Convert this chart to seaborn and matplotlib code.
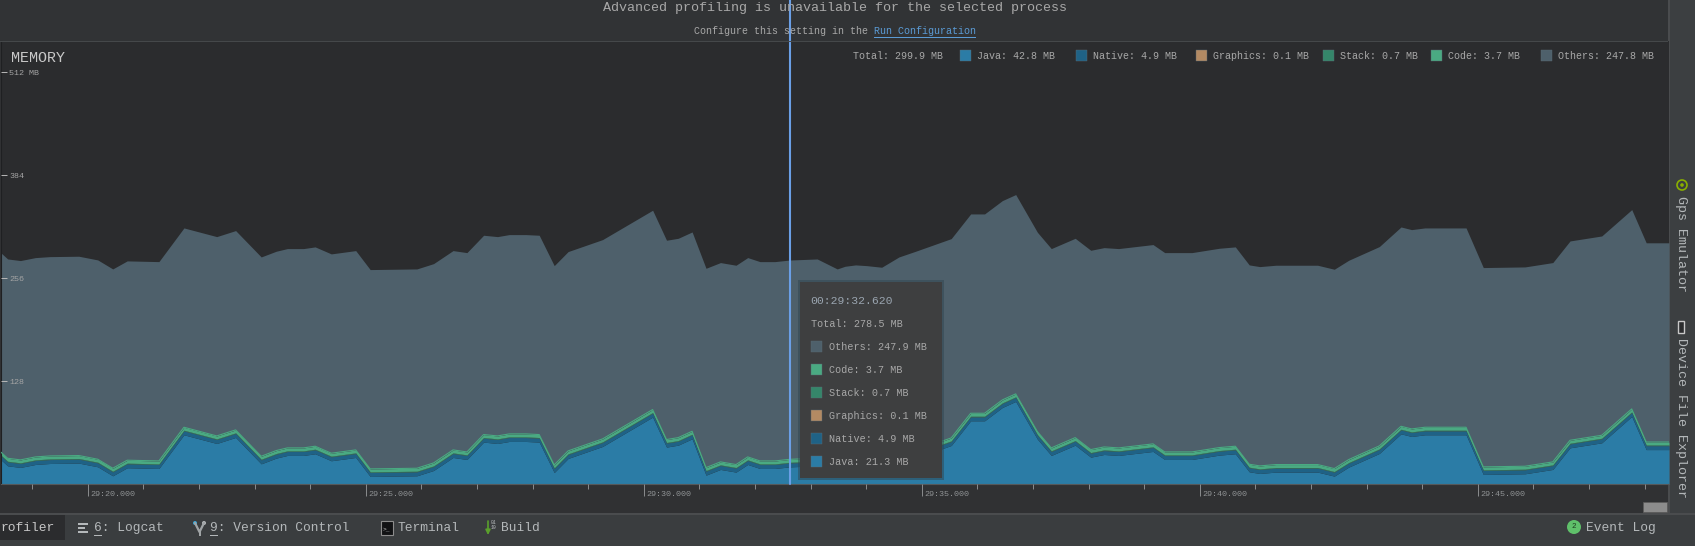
import numpy as np
import pandas as pd
import matplotlib
matplotlib.use("Agg")
import matplotlib.pyplot as plt
from matplotlib.patches import Rectangle, Circle
import seaborn as sns

# seconds after 00:29:00 and MB per layer
times = [18.44, 18.56, 18.79, 19.06, 19.32, 19.84, 20.18, 20.45, 20.71, 21.28,
         21.73, 22.32, 22.66, 23.12, 23.39, 23.59, 23.88, 24.09, 24.38, 24.82,
         25.08, 25.92, 26.22, 26.57, 26.82, 27.12, 27.37, 27.58, 27.88, 28.12,
         28.39, 28.64, 29.26, 30.16, 30.41, 30.62, 30.87, 31.12, 31.38, 31.66,
         31.87, 32.09, 32.36, 32.63, 33.12, 33.48, 33.62, 33.81, 34.01, 34.28,
         34.59, 34.89, 35.53, 35.88, 36.13, 36.45, 36.69, 37.08, 37.33, 37.76,
         38.04, 38.28, 38.54, 39.16, 39.37, 39.86, 40.35, 40.64, 40.89, 41.08,
         41.37, 42.12, 42.42, 42.68, 43.23, 43.62, 43.81, 44.05, 44.79, 45.10,
         45.85, 46.35, 46.66, 47.23, 47.77, 48.03, 48.44]
java = [30.1, 22.6, 20.6, 24.3, 25.5, 26.0, 21.4, 10.2, 20.2, 19.3,
        61.2, 50.4, 57.9, 25.1, 32.2, 35.5, 35.5, 37.6, 28.9, 33.0,
        9.4, 10.2, 16.8, 33.0, 30.5, 52.1, 50.4, 52.9, 52.9, 52.1,
        14.3, 31.8, 46.7, 83.2, 45.9, 48.3, 56.2, 11.0, 18.1, 14.8,
        24.3, 19.3, 19.3, 21.3, 22.6, 10.2, 13.5, 15.2, 14.3, 12.3,
        25.1, 32.2, 47.9, 78.6, 78.6, 95.2, 102.7, 55.8, 35.5, 48.3,
        33.4, 36.7, 35.5, 40.5, 30.5, 30.5, 35.9, 37.6, 15.2, 13.1,
        14.8, 14.8, 9.8, 21.0, 38.0, 62.4, 59.1, 61.2, 61.2, 11.9,
        12.7, 18.1, 45.0, 51.2, 84.0, 42.8, 42.8]
native = [4.9, 4.9, 4.9, 4.9, 4.9, 4.9, 4.9, 4.9, 4.9, 4.9,
          4.9, 4.9, 4.9, 4.9, 4.9, 4.9, 4.9, 4.9, 4.9, 4.9,
          4.9, 4.9, 4.9, 4.9, 4.9, 4.9, 4.9, 4.9, 4.9, 4.9,
          4.9, 4.9, 4.9, 4.9, 4.9, 4.9, 4.9, 4.9, 4.9, 4.9,
          4.9, 4.9, 4.9, 4.9, 4.9, 4.9, 4.9, 4.9, 4.9, 4.9,
          4.9, 4.9, 4.9, 4.9, 4.9, 4.9, 4.9, 4.9, 4.9, 4.9,
          4.9, 4.9, 4.9, 4.9, 4.9, 4.9, 4.9, 4.9, 4.9, 4.9,
          4.9, 4.9, 4.9, 4.9, 4.9, 4.9, 4.9, 4.9, 4.9, 4.9,
          4.9, 4.9, 4.9, 4.9, 4.9, 4.9, 4.9]
graphics = [0.1, 0.1, 0.1, 0.1, 0.1, 0.1, 0.1, 0.1, 0.1, 0.1,
            0.1, 0.1, 0.1, 0.1, 0.1, 0.1, 0.1, 0.1, 0.1, 0.1,
            0.1, 0.1, 0.1, 0.1, 0.1, 0.1, 0.1, 0.1, 0.1, 0.1,
            0.1, 0.1, 0.1, 0.1, 0.1, 0.1, 0.1, 0.1, 0.1, 0.1,
            0.1, 0.1, 0.1, 0.1, 0.1, 0.1, 0.1, 0.1, 0.1, 0.1,
            0.1, 0.1, 0.1, 0.1, 0.1, 0.1, 0.1, 0.1, 0.1, 0.1,
            0.1, 0.1, 0.1, 0.1, 0.1, 0.1, 0.1, 0.1, 0.1, 0.1,
            0.1, 0.1, 0.1, 0.1, 0.1, 0.1, 0.1, 0.1, 0.1, 0.1,
            0.1, 0.1, 0.1, 0.1, 0.1, 0.1, 0.1]
stack = [0.7, 0.7, 0.7, 0.7, 0.7, 0.7, 0.7, 0.7, 0.7, 0.7,
         0.7, 0.7, 0.7, 0.7, 0.7, 0.7, 0.7, 0.7, 0.7, 0.7,
         0.7, 0.7, 0.7, 0.7, 0.7, 0.7, 0.7, 0.7, 0.7, 0.7,
         0.7, 0.7, 0.7, 0.7, 0.7, 0.7, 0.7, 0.7, 0.7, 0.7,
         0.7, 0.7, 0.7, 0.7, 0.7, 0.7, 0.7, 0.7, 0.7, 0.7,
         0.7, 0.7, 0.7, 0.7, 0.7, 0.7, 0.7, 0.7, 0.7, 0.7,
         0.7, 0.7, 0.7, 0.7, 0.7, 0.7, 0.7, 0.7, 0.7, 0.7,
         0.7, 0.7, 0.7, 0.7, 0.7, 0.7, 0.7, 0.7, 0.7, 0.7,
         0.7, 0.7, 0.7, 0.7, 0.7, 0.7, 0.7]
code = [3.7, 3.7, 3.7, 3.7, 3.7, 3.7, 3.7, 3.7, 3.7, 3.7,
        3.7, 3.7, 3.7, 3.7, 3.7, 3.7, 3.7, 3.7, 3.7, 3.7,
        3.7, 3.7, 3.7, 3.7, 3.7, 3.7, 3.7, 3.7, 3.7, 3.7,
        3.7, 3.7, 3.7, 3.7, 3.7, 3.7, 3.7, 3.7, 3.7, 3.7,
        3.7, 3.7, 3.7, 3.7, 3.7, 3.7, 3.7, 3.7, 3.7, 3.7,
        3.7, 3.7, 3.7, 3.7, 3.7, 3.7, 3.7, 3.7, 3.7, 3.7,
        3.7, 3.7, 3.7, 3.7, 3.7, 3.7, 3.7, 3.7, 3.7, 3.7,
        3.7, 3.7, 3.7, 3.7, 3.7, 3.7, 3.7, 3.7, 3.7, 3.7,
        3.7, 3.7, 3.7, 3.7, 3.7, 3.7, 3.7]
others = [247.9, 247.9, 247.9, 247.9, 247.9, 247.9, 247.9, 247.9, 247.9, 247.9,
          247.9, 247.9, 247.9, 247.9, 247.9, 247.9, 247.9, 247.9, 247.9, 247.9,
          247.9, 247.9, 247.9, 247.9, 247.9, 247.9, 247.9, 247.9, 247.9, 247.9,
          247.9, 247.9, 247.9, 247.9, 247.9, 247.9, 247.9, 247.9, 247.9, 247.9,
          247.9, 247.9, 247.9, 247.9, 247.9, 247.9, 247.9, 247.9, 247.9, 247.9,
          247.9, 247.9, 247.9, 247.9, 247.9, 247.9, 247.9, 247.9, 247.9, 247.9,
          247.9, 247.9, 247.9, 247.9, 247.9, 247.9, 247.9, 247.9, 247.9, 247.9,
          247.9, 247.9, 247.9, 247.9, 247.9, 247.9, 247.9, 247.9, 247.9, 247.9,
          247.9, 247.9, 247.9, 247.9, 247.9, 247.8, 247.8]

layer_names = ["Java", "Native", "Graphics", "Stack", "Code", "Others"]
layer_colors = ["#2b7ca6", "#1f6286", "#b38a63", "#35866a", "#4aaa82", "#4e606b"]

y_ticks = [128, 256, 384, 512]
y_labels = ["128", "256", "384", "512 MB"]
major_seconds = [20, 25, 30, 35, 40, 45]
major_labels = ["29:20.000", "29:25.000", "29:30.000", "29:35.000", "29:40.000", "29:45.000"]
minor_seconds = [19, 21, 22, 23, 24, 26, 27, 28, 29, 31, 32, 33, 34, 36, 37, 38, 39,
                 41, 42, 43, 44, 46, 47, 48]
cursor_time = 32.63

legend_total = "Total: 299.9 MB"
legend_items = ["Java: 42.8 MB", "Native: 4.9 MB", "Graphics: 0.1 MB",
                "Stack: 0.7 MB", "Code: 3.7 MB", "Others: 247.8 MB"]
tooltip_time = "00:29:32.620"
tooltip_total = "Total: 278.5 MB"
tooltip_items = ["Others: 247.9 MB", "Code: 3.7 MB", "Stack: 0.7 MB",
                 "Graphics: 0.1 MB", "Native: 4.9 MB", "Java: 21.3 MB"]

W, H = 1695, 546
sns.set_style("dark", {"axes.facecolor": "#2b2c2e", "figure.facecolor": "#313335"})
plt.rcParams["font.family"] = ["Liberation Mono", "DejaVu Sans Mono"]

fig = plt.figure(figsize=(W / 100, H / 100), dpi=100)

# window chrome behind the chart, in pixel coordinates
bg = fig.add_axes([0, 0, 1, 1], zorder=0)
bg.set_xlim(0, W)
bg.set_ylim(H, 0)
bg.axis("off")
bg.add_patch(Rectangle((0, 0), W, 41, color="#313335", lw=0))
bg.add_patch(Rectangle((0, 484), W, 29, color="#303133", lw=0))
bg.add_patch(Rectangle((0, 513), W, 2, color="#4a4c4e", lw=0))
bg.add_patch(Rectangle((0, 515), W, 25, color="#3a3d3f", lw=0))
bg.add_patch(Rectangle((0, 540), W, 6, color="#3c3f41", lw=0))
bg.add_patch(Rectangle((0, 515), 65, 25, color="#2b2c2e", lw=0))
bg.add_patch(Rectangle((1669, 0), 26, 513, color="#3c3f41", lw=0))
bg.add_patch(Rectangle((1668, 0), 1.5, 513, color="#4a4c4e", lw=0))

# memory chart
ax = fig.add_axes([1 / W, 1 - 484 / H, 1668 / W, 443 / H], zorder=1)
ax.set_xlim(18.44, 48.44)
ax.set_ylim(0, 551)

layers = pd.DataFrame(dict(zip(layer_names, [java, native, graphics, stack, code, others])))
tops = layers.cumsum(axis=1)
tops["time"] = times
lower = np.zeros(len(times))
for name, color in zip(layer_names, layer_colors):
    ax.fill_between(times, lower, tops[name], color=color, lw=0, zorder=2)
    lower = tops[name].to_numpy()

long_tops = tops.melt(id_vars="time", value_vars=["Code"], var_name="layer", value_name="mb")
sns.lineplot(data=long_tops, x="time", y="mb", hue="layer", palette={"Code": "#4aaa82"},
             estimator=None, lw=0.8, legend=False, ax=ax, zorder=3)
ax.set_xlabel("")
ax.set_ylabel("")

for s in ["top", "right"]:
    ax.spines[s].set_visible(False)
ax.spines["left"].set_color("#1f2022")
ax.spines["bottom"].set_color("#55585a")
ax.spines["bottom"].set_linewidth(0.8)

# ticks have to stay visible on top of the filled layers
ax.set_axisbelow(False)
ax.set_yticks(y_ticks)
ax.set_yticklabels([])
ax.tick_params(axis="y", left=True, direction="in", length=4, width=0.7, color="#b8b8b8")
for v, lab in zip(y_ticks, y_labels):
    ax.annotate(lab, (18.44, v), xytext=(8, -1), textcoords="offset pixels", va="center",
                fontsize=6, color="#a4a4a4", zorder=5)

ax.set_xticks(major_seconds)
ax.set_xticklabels([])
ax.set_xticks(minor_seconds, minor=True)
ax.tick_params(axis="x", which="major", bottom=True, direction="out", length=8.6, width=0.7, color="#8a8c8e")
ax.tick_params(axis="x", which="minor", bottom=True, direction="out", length=3.4, width=0.7, color="#8a8c8e")
for t, lab in zip(major_seconds, major_labels):
    ax.annotate(lab, (t, 0), xytext=(3, -11), textcoords="offset pixels", va="center",
                fontsize=6, color="#8f9294", annotation_clip=False)

# selection cursor runs up through the header
ax.axvline(cursor_time, ymin=0, ymax=484 / 443, color="#6a9fe6", lw=1.5, clip_on=False, zorder=6)

# everything on top of the chart
fg = fig.add_axes([0, 0, 1, 1], zorder=2)
fg.set_xlim(0, W)
fg.set_ylim(H, 0)
fg.axis("off")
fg.patch.set_alpha(0)

fg.add_patch(Rectangle((0, 41), 1668, 0.8, color="#45484a", lw=0))

text_col = "#a8a8a8"
fg.text(835, 8, "Advanced profiling is unavailable for the selected process",
        ha="center", va="center", fontsize=9.6, color="#a8a8a8")
fg.text(694, 31, "Configure this setting in the ", va="center", fontsize=7.2, color="#a8a8a8")
fg.text(874, 31, "Run Configuration", va="center", fontsize=7.2, color="#5b9bd5")
fg.add_patch(Rectangle((874, 36.5), 102, 1, color="#5b9bd5", lw=0))
fg.text(11, 58, "MEMORY", va="center", fontsize=10.8, color="#c8c8c8")

# legend row
fg.text(853, 55.7, legend_total, va="center", fontsize=7.2, color=text_col)
legend_x = [960, 1076, 1196, 1323, 1431, 1541]
for x0, item, color in zip(legend_x, legend_items, layer_colors):
    fg.add_patch(Rectangle((x0, 50), 11, 10.5, facecolor=color, edgecolor="#5a6a72", lw=0.3))
    fg.text(x0 + 17, 55.7, item, va="center", fontsize=7.2, color=text_col)

# tooltip
fg.add_patch(Rectangle((798, 280), 146, 200, color="#2f4650", alpha=0.5, lw=0))
fg.add_patch(Rectangle((800, 282), 142, 196, color="#3e3f40", lw=0))
fg.text(810, 300.7, tooltip_time, va="center", fontsize=8.2, color="#9aa5b0")
fg.text(811, 323.7, tooltip_total, va="center", fontsize=7.3, color=text_col)
for i, (item, color) in enumerate(zip(tooltip_items, reversed(layer_colors))):
    yc = 346.7 + 23 * i
    fg.add_patch(Rectangle((811, yc - 5.5), 11, 11, facecolor=color, edgecolor="#5a6a72", lw=0.3))
    fg.text(829, yc, item, va="center", fontsize=7.3, color=text_col)

# scrollbar thumb
fg.add_patch(Rectangle((1643, 502), 24, 10, facecolor="#8c8c8c", edgecolor="#5c5c5c", lw=0.5))

# bottom tool window bar
bar_col = "#b4b8ba"
fg.text(0, 528, "rofiler", va="center", fontsize=9.3, color="#c8c8c8")
fg.text(94, 528, "6: Logcat", va="center", fontsize=9.3, color=bar_col)
fg.text(210, 528, "9: Version Control", va="center", fontsize=9.3, color=bar_col)
fg.text(398, 528, "Terminal", va="center", fontsize=9.3, color=bar_col)
fg.text(501, 528, "Build", va="center", fontsize=9.3, color=bar_col)
fg.text(1586, 528, "Event Log", va="center", fontsize=9.3, color=bar_col)
fg.add_patch(Rectangle((94, 535), 8, 0.8, color=bar_col, lw=0))
fg.add_patch(Rectangle((210, 535), 8, 0.8, color=bar_col, lw=0))

# toolbar icons
for yy, ww in zip([523, 527, 531], [10, 7, 10]):
    fg.add_patch(Rectangle((78, yy), ww, 2, color="#b4b8ba", lw=0))
fg.plot([195, 199.5, 204], [523, 532, 523], color="#a0a4a6", lw=1.6)
fg.add_patch(Circle((195, 523), 2, color="#3fa9d8", lw=0))
fg.add_patch(Circle((204, 523), 2, color="#b4b8ba", lw=0))
fg.add_patch(Rectangle((199, 531), 2, 5, color="#a0a4a6", lw=0))
fg.add_patch(Rectangle((381, 521), 12, 14, facecolor="#111214", edgecolor="#8c8c8c", lw=0.8))
fg.text(383, 529, ">_", va="center", fontsize=4.5, color="#d0d0d0")
fg.annotate("", xy=(488, 535), xytext=(488, 521),
            arrowprops=dict(arrowstyle="-|>", color="#5aa02c", lw=1.2, mutation_scale=7,
                            shrinkA=0, shrinkB=0))
fg.text(491, 525, "01\n10", va="center", fontsize=3.5, color="#b4b8ba", linespacing=0.9)
fg.add_patch(Circle((1574, 527), 7, color="#5fc06a", lw=0))
fg.text(1574, 527, "2", ha="center", va="center", fontsize=5.5, color="#1d3a20")

# right side tool window buttons
side_col = "#b4b8ba"
fg.add_patch(Circle((1682, 185), 5, facecolor="none", edgecolor="#8ab000", lw=1.2))
fg.add_patch(Circle((1682, 185), 1.8, color="#8ab000", lw=0))
fg.text(1681, 244, "Gps Emulator", rotation=-90, ha="center", va="center",
        fontsize=9.6, color=side_col)
fg.add_patch(Rectangle((1678, 321), 6, 12, facecolor="#2b2c2e", edgecolor="#c8c8c8", lw=1))
fg.text(1681, 418, "Device File Explorer", rotation=-90, ha="center", va="center",
        fontsize=9.6, color=side_col)

fig.savefig("out.png", dpi=100, facecolor=fig.get_facecolor())
